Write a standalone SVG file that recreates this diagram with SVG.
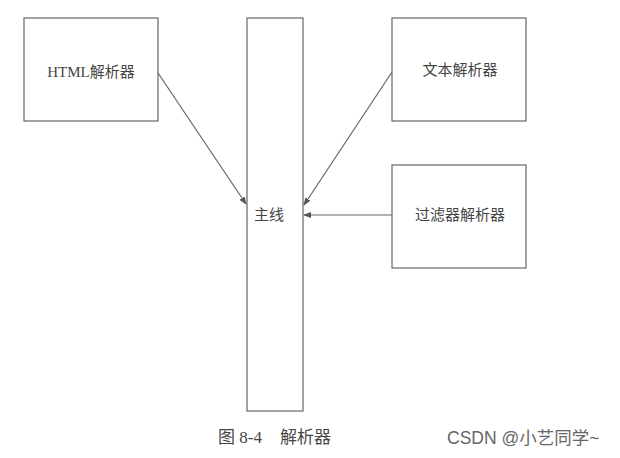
<svg xmlns="http://www.w3.org/2000/svg" width="620" height="458" viewBox="0 0 620 458">
<defs>
<style>
.box{fill:#fff;stroke:#666;stroke-width:1.2}
.lbl{font-family:"Liberation Serif","Noto Sans CJK SC",serif;font-size:15px;fill:#444;text-anchor:middle}
.conn{stroke:#666;stroke-width:1.2;fill:none;marker-end:url(#ah)}
.cap{font-family:"Liberation Serif","Noto Sans CJK SC",serif;font-size:17px;fill:#444}
</style>
<marker id="ah" markerWidth="8" markerHeight="6" refX="7" refY="3" orient="auto" markerUnits="userSpaceOnUse">
<path d="M0,0 L8,3 L0,6 Z" fill="#555"/>
</marker>
</defs>
<rect width="620" height="458" fill="#fff"/>
<g id="html">
<rect class="box" x="24" y="18" width="134" height="103"/>
<text class="lbl" x="91" y="77">HTML解析器</text>
</g>
<g id="main">
<rect class="box" x="247" y="18" width="56" height="393"/>
<text class="lbl" x="269" y="220">主线</text>
</g>
<g id="text">
<rect class="box" x="392" y="18" width="134" height="103"/>
<text class="lbl" x="460" y="75">文本解析器</text>
</g>
<g id="filter">
<rect class="box" x="392" y="165" width="134" height="103"/>
<text class="lbl" x="460" y="220">过滤器解析器</text>
</g>
<g id="connectors">
<line class="conn" x1="158" y1="73" x2="246" y2="204"/>
<line class="conn" x1="392" y1="72" x2="304" y2="205"/>
<line class="conn" x1="392" y1="215" x2="304" y2="215"/>
</g>
<text class="cap" x="218" y="443">图 8-4</text>
<text class="cap" x="280" y="443">解析器</text>
<text x="447" y="444" style="font-family:'Liberation Sans','Noto Sans CJK SC',sans-serif;font-size:17.5px;fill:#666">CSDN @小艺同学~</text>
</svg>
